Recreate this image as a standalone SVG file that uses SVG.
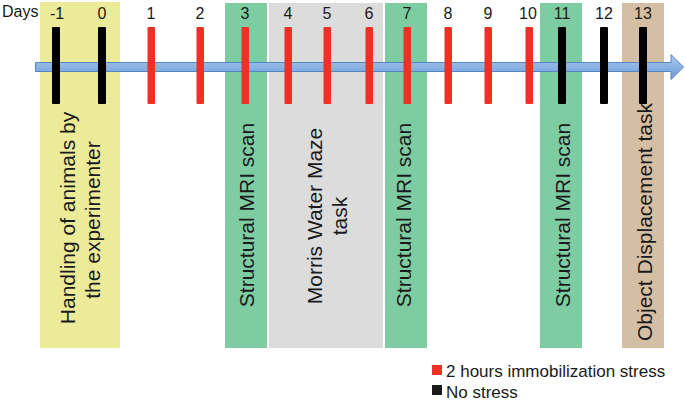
<svg xmlns="http://www.w3.org/2000/svg" width="685" height="401" viewBox="0 0 685 401">
<defs>
<linearGradient id="ag" x1="0" y1="0" x2="0" y2="1">
<stop offset="0" stop-color="#a9c8ee"/>
<stop offset="0.5" stop-color="#8cb3e3"/>
<stop offset="1" stop-color="#6a98d4"/>
</linearGradient>
<style>
text{font-family:"Liberation Sans",Arial,sans-serif;fill:#1a1a1a}
.day{font-size:16px;text-anchor:middle}
.lbl{font-size:21px;text-anchor:middle}
.leg{font-size:17px}
.red{fill:#ee3124}
.blk{fill:#000}
.yel{fill:#ebeb9a}
.grn{fill:#7ecda2}
.gry{fill:#dcdcdc}
.tan{fill:#d5bfa4}
</style>
</defs>
<rect width="685" height="401" fill="#fff"/>
<g id="handling"><rect class="yel" x="40" y="2" width="80" height="346"/></g>
<g id="mri1"><rect class="grn" x="225" y="3" width="42" height="345"/></g>
<g id="mwm"><rect class="gry" x="269" y="3" width="114" height="345"/></g>
<g id="mri2"><rect class="grn" x="385" y="3" width="42" height="345"/></g>
<g id="mri3"><rect class="grn" x="540" y="3" width="42" height="345"/></g>
<g id="odt"><rect class="tan" x="622" y="3" width="42" height="345"/></g>
<g id="connectors">
<path d="M35.5,62.5 H671 V54.5 L683.5,67 L671,79.5 V71.5 H35.5 Z" fill="url(#ag)" stroke="#5585c4" stroke-width="1"/>
</g>
<g id="ticks">
<rect class="blk" x="52" y="27" width="8" height="77" rx="1"/>
<rect class="blk" x="98" y="27" width="8" height="77" rx="1"/>
<rect class="red" x="147.5" y="27" width="7.5" height="77" rx="1"/>
<rect class="red" x="196.5" y="27" width="7.5" height="77" rx="1"/>
<rect class="red" x="241.5" y="27" width="7.5" height="77" rx="1"/>
<rect class="red" x="284.5" y="27" width="7.5" height="77" rx="1"/>
<rect class="red" x="323.5" y="27" width="7.5" height="77" rx="1"/>
<rect class="red" x="365.5" y="27" width="7.5" height="77" rx="1"/>
<rect class="red" x="403.5" y="27" width="7.5" height="77" rx="1"/>
<rect class="red" x="444.5" y="27" width="7.5" height="77" rx="1"/>
<rect class="red" x="484.5" y="27" width="7.5" height="77" rx="1"/>
<rect class="red" x="525.5" y="27" width="7.5" height="77" rx="1"/>
<rect class="blk" x="558" y="27" width="8" height="77" rx="1"/>
<rect class="blk" x="600" y="27" width="8" height="77" rx="1"/>
<rect class="blk" x="639" y="27" width="8" height="77" rx="1"/>
</g>
<g id="days">
<text x="2" y="17" style="font-size:16px">Days</text>
<text class="day" x="57" y="19">-1</text>
<text class="day" x="102" y="19">0</text>
<text class="day" x="151" y="19">1</text>
<text class="day" x="200" y="19">2</text>
<text class="day" x="245" y="19">3</text>
<text class="day" x="288" y="19">4</text>
<text class="day" x="327" y="19">5</text>
<text class="day" x="369" y="19">6</text>
<text class="day" x="407" y="19">7</text>
<text class="day" x="448" y="19">8</text>
<text class="day" x="488" y="19">9</text>
<text class="day" x="528" y="19">10</text>
<text class="day" x="562" y="19">11</text>
<text class="day" x="604" y="19">12</text>
<text class="day" x="643" y="19">13</text>
</g>
<g id="labels">
<text class="lbl" transform="translate(75,218) rotate(-90)">Handling of animals by</text>
<text class="lbl" transform="translate(100,220) rotate(-90)">the experimenter</text>
<text class="lbl" transform="translate(254,215) rotate(-90)">Structural MRI scan</text>
<text class="lbl" transform="translate(322,216) rotate(-90)">Morris Water Maze</text>
<text class="lbl" transform="translate(347,216) rotate(-90)">task</text>
<text class="lbl" transform="translate(411,215) rotate(-90)">Structural MRI scan</text>
<text class="lbl" transform="translate(570,215) rotate(-90)">Structural MRI scan</text>
<text class="lbl" transform="translate(652,222) rotate(-90)">Object Displacement task</text>
</g>
<g id="legend">
<rect class="red" x="432" y="365" width="10" height="10"/>
<text class="leg" x="446" y="377">2 hours immobilization stress</text>
<rect x="432" y="385" width="10" height="10" fill="#1a1a1a"/>
<text class="leg" x="446" y="398">No stress</text>
</g>
</svg>
